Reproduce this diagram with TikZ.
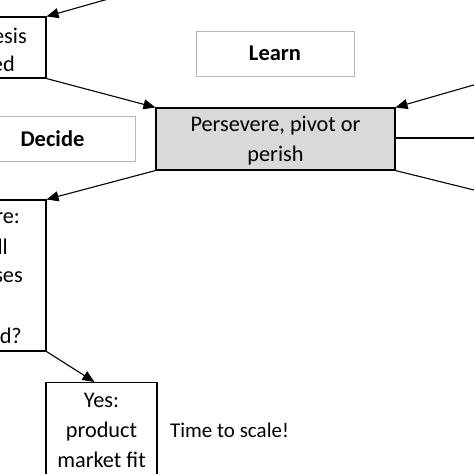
\documentclass[tikz,border=0pt]{standalone}
\usepackage{fontspec}
\setmainfont{Carlito}
\usetikzlibrary{arrows.meta}

\begin{document}
\begin{tikzpicture}[x=1pt,y=-1pt,
	font=\fontsize{22.3}{30}\selectfont,
	box/.style={draw, line width=1.1pt, inner sep=0pt, align=center},
	softbox/.style={draw=black!28, line width=0.9pt, inner sep=0pt, font=\fontsize{22.5}{26}\selectfont\bfseries},
	arr/.style={-{Triangle[length=12pt,width=10pt]}, line width=1.1pt},
	ln/.style={line width=1.1pt}]
			%%%	Frame
			\useasboundingbox (0,0) rectangle (474,474);
			\clip (0,0) rectangle (474,474);
			%%%	Boxes
			\node[box, minimum width=126pt, minimum height=61pt] (hyp) at (-17,47.5) {};
			\node[anchor=east, inner sep=0pt] (hypa) at (27,36) {esis};
			\node[anchor=east, inner sep=0pt] (hypb) at (15,64) {ed};
			\node[softbox, minimum width=158pt, minimum height=45pt] (learn) at (275,53.5) {Learn};
			\node[softbox, minimum width=165pt, minimum height=45pt] (decide) at (52.5,138.5) {Decide};
			\node[box, fill=black!15, minimum width=239pt, minimum height=62pt] (ppp) at (275.5,139) {};
			\node[align=center, inner sep=0pt] (pppt) at (275.5,141) {Persevere, pivot or\\perish};
			\node[box, minimum width=126pt, minimum height=151pt] (fail) at (-17,275.5) {};
			\node[anchor=east, inner sep=0pt] (faila) at (20,218) {re:};
			\node[anchor=east, inner sep=0pt] (failb) at (8,247) {ll};
			\node[anchor=east, inner sep=0pt] (failc) at (23,277) {ses};
			\node[anchor=east, inner sep=0pt] (faild) at (22,336) {ed?};
			\node[box, minimum width=111pt, minimum height=104pt, anchor=north] (yes) at (101.5,382) {};
			\node[align=center, inner sep=0pt] (yest) at (101.5,430) {Yes:\\product\\market fit};
			\node[inner sep=0pt, font=\fontsize{21}{26}\selectfont] (scale) at (229.5,430) {Time to scale!};
			%%%	Connectors
			\coordinate (intop) at (110,-1.5);
			\coordinate (inright) at (490,80.3);
			\coordinate (outmid) at (490,138);
			\coordinate (outlow) at (490,194);
			\draw[arr] (intop) -- (hyp.north east);
			\draw[arr] (hyp.south east) -- (ppp.north west);
			\draw[arr] (inright) -- (ppp.north east);
			\draw[ln] (ppp.east |- outmid) -- (outmid);
			\draw[ln] (ppp.south east) -- (outlow);
			\draw[arr] (ppp.south west) -- (fail.north east);
			\draw[arr] (fail.south east) -- ([xshift=-7pt]yes.north);
		\end{tikzpicture}
\end{document}
